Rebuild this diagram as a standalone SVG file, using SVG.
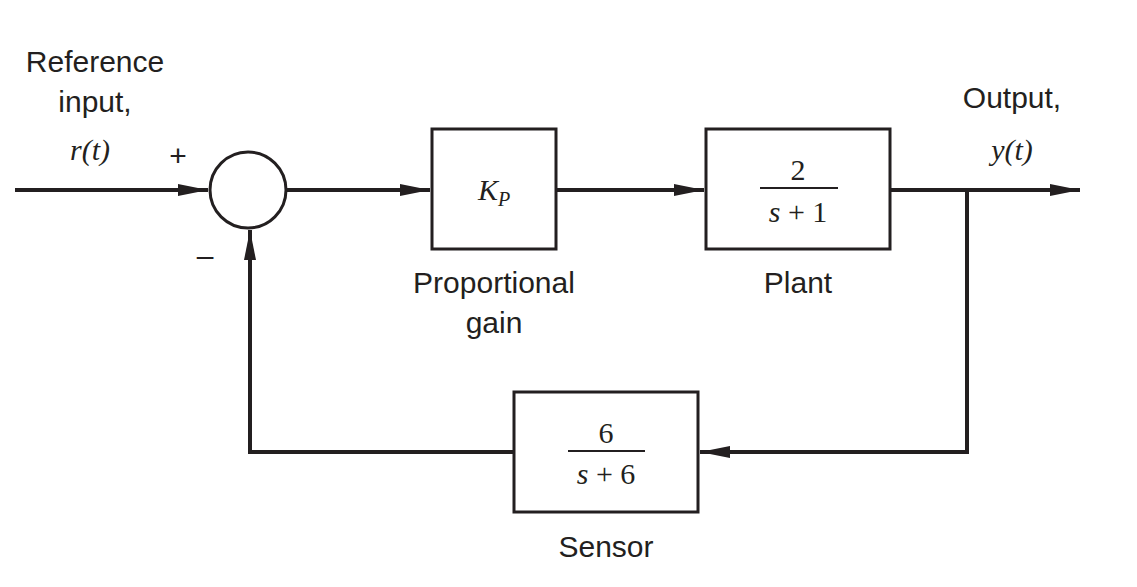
<svg xmlns="http://www.w3.org/2000/svg" width="1137" height="587" viewBox="0 0 1137 587">
<style>
.b{fill:#fff;stroke:#231f20;stroke-width:3}
.l{fill:none;stroke:#231f20;stroke-width:4}
.s{font-family:"Liberation Sans",Arial,sans-serif;font-size:30px;fill:#231f20;text-anchor:middle}
.m{font-family:"Liberation Serif","Times New Roman",serif;font-size:30px;fill:#231f20;text-anchor:middle}
</style>
<defs><marker id="a" viewBox="0 0 10 10" refX="10" refY="5" markerWidth="7" markerHeight="3" orient="auto" markerUnits="userSpaceOnUse"><path d="M0,0L10,5L0,10z" fill="#231f20"/></marker>
<marker id="h" viewBox="0 0 30 12" refX="30" refY="6" markerWidth="30" markerHeight="12" orient="auto" markerUnits="userSpaceOnUse"><path d="M0,0L30,6L0,12z" fill="#231f20"/></marker></defs>
<g id="connectors">
<path class="l" d="M15,190H208" marker-end="url(#h)"/>
<path class="l" d="M286,190H430" marker-end="url(#h)"/>
<path class="l" d="M556,190H704" marker-end="url(#h)"/>
<path class="l" d="M890,190H1080" marker-end="url(#h)"/>
<path class="l" d="M967,190V452H700" marker-end="url(#h)"/>
<path class="l" d="M514,452H250V230" marker-end="url(#h)"/>
</g>
<g id="labels">
<text class="s" x="95" y="72">Reference</text>
<text class="s" x="95" y="112">input,</text>
<text class="m" x="90" y="160" font-style="italic">r(t)</text>
<text class="s" x="178" y="166">+</text>
<text class="s" x="205" y="266">–</text>
<text class="s" x="1012" y="108">Output,</text>
<text class="m" x="1012" y="160" font-style="italic">y(t)</text>
</g>
<g id="sum"><circle class="b" cx="248" cy="190" r="38"/></g>
<g id="gain"><rect class="b" x="432" y="129" width="124" height="120"/>
<text class="m" x="494" y="200" font-style="italic">K<tspan font-size="20" dy="6">P</tspan></text>
<text class="s" x="494" y="293">Proportional</text><text class="s" x="494" y="333">gain</text></g>
<g id="plant"><rect class="b" x="706" y="129" width="184" height="120"/>
<text class="m" x="798" y="180">2</text><path d="M760,188H838" stroke="#231f20" stroke-width="2"/>
<text class="m" x="798" y="222"><tspan font-style="italic">s</tspan> + 1</text>
<text class="s" x="798" y="293">Plant</text></g>
<g id="sensor"><rect class="b" x="514" y="392" width="184" height="120"/>
<text class="m" x="606" y="443">6</text><path d="M568,451H645" stroke="#231f20" stroke-width="2"/>
<text class="m" x="606" y="484"><tspan font-style="italic">s</tspan> + 6</text>
<text class="s" x="606" y="557">Sensor</text></g>
</svg>
